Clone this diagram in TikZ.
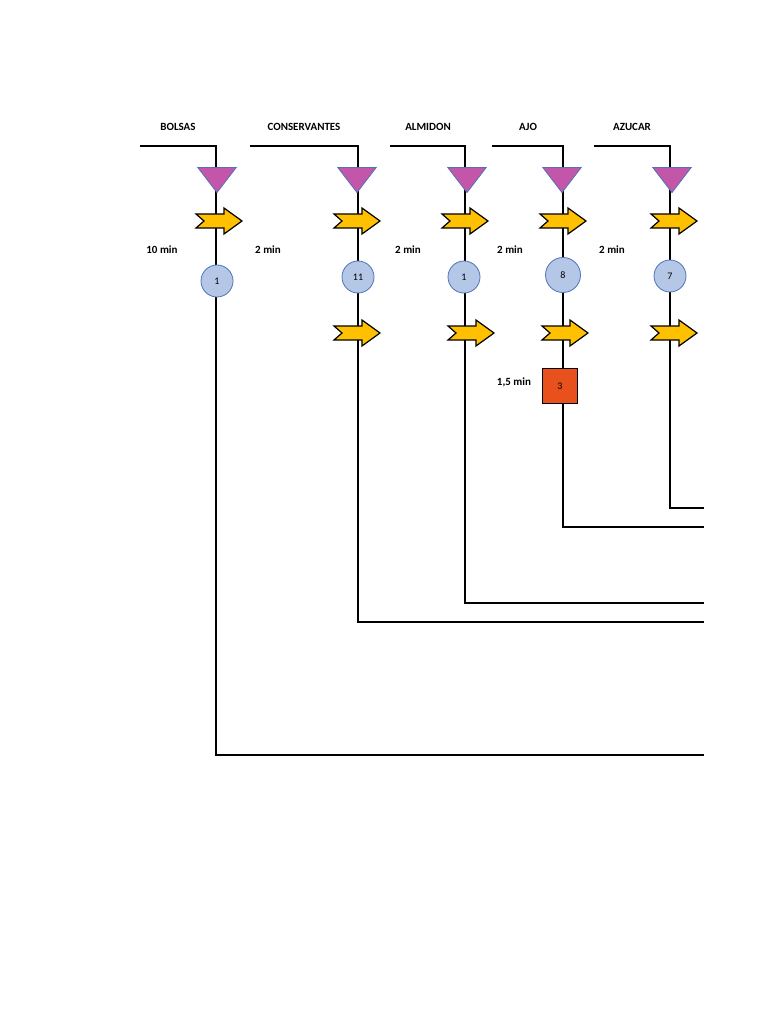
\documentclass[tikz,border=0pt]{standalone}
\usepackage{fontspec}
\setmainfont{Carlito}
\usetikzlibrary{shapes.geometric}
\definecolor{inspec}{HTML}{C456AA}
\definecolor{opfill}{HTML}{B4C7E7}
\definecolor{opline}{HTML}{4F72B8}
\definecolor{trans}{HTML}{FFC000}
\definecolor{comb}{HTML}{E8501C}
\tikzset{
  almacen/.style={isosceles triangle, shape border rotate=-90, isosceles triangle apex angle=75,
    fill=inspec, draw=opline, thick, minimum width=34pt, minimum height=25pt, inner sep=0pt},
  operacion/.style={circle, fill=opfill, draw=opline, thick, minimum size=32pt, inner sep=0pt, font=\fontsize{10}{12}\selectfont},
  combinada/.style={rectangle, fill=comb, draw=black, thick, minimum size=35pt, inner sep=0pt, font=\fontsize{10}{12}\selectfont},
  etiqueta/.style={font=\bfseries\fontsize{11}{13}\selectfont},
  linea/.style={line width=2pt},
  lineafina/.style={line width=1.5pt}
}
% chevron arrow, left-middle at (#1,#2)
\newcommand{\flecha}[2]{%
  \draw[fill=trans, line width=1.2pt, line join=miter] (#1,#2) ++(0,-7) -- ++(28,0) -- ++(0,-6)
    -- ++(18,13) -- ++(-18,13) -- ++(0,-6) -- ++(-28,0) -- ++(8,-7) -- cycle;}
\begin{document}
\begin{tikzpicture}[x=1pt, y=-1pt]
  \useasboundingbox (0,0) rectangle (768,1024);

  % Material labels
  \node[etiqueta] (bolsas) at (178,127) {BOLSAS};
  \node[etiqueta] (conservantes) at (304,127) {CONSERVANTES};
  \node[etiqueta] (almidon) at (428,127) {ALMIDON};
  \node[etiqueta] (ajo) at (528,127) {AJO};
  \node[etiqueta] (azucar) at (632,127) {AZUCAR};

  % Corner and end points of the lines
  \coordinate (a0) at (140,146);  \coordinate (a1) at (216,146);
  \coordinate (a2) at (216,755);  \coordinate (a3) at (704,755);
  \coordinate (b0) at (250,146);  \coordinate (b1) at (358,146);
  \coordinate (b2) at (358,622);  \coordinate (b3) at (704,622);
  \coordinate (c0) at (390,146);  \coordinate (c1) at (465,146);
  \coordinate (c2) at (465,603);  \coordinate (c3) at (704,603);
  \coordinate (d0) at (492,146);  \coordinate (d1) at (563,146);
  \coordinate (d2) at (563,527);  \coordinate (d3) at (704,527);
  \coordinate (e0) at (594,146);  \coordinate (e1) at (670,146);
  \coordinate (e2) at (670,508);  \coordinate (e3) at (704,508);

  % Lines
  \draw[linea] (a0) -- (a1) -- (a2) -- (a3);
  \draw[linea] (b0) -- (b1) -- (b2) -- (b3);
  \draw[linea] (c0) -- (c1) -- (c2) -- (c3);
  \draw[linea] (d0) -- (d1) -- (d2) -- (d3);
  \draw[linea] (e0) -- (e1) -- (e2) -- (e3);

  % Storage
  \node[almacen] (alm1) at (217,177) {};
  \node[almacen] (alm2) at (357,177) {};
  \node[almacen] (alm3) at (467,177) {};
  \node[almacen] (alm4) at (562,177) {};
  \node[almacen] (alm5) at (672,177) {};

  % Transport
  \flecha{196}{221}
  \flecha{334}{221}
  \flecha{442}{221}
  \flecha{540}{221}
  \flecha{651}{221}
  \flecha{334}{333}
  \flecha{448}{333}
  \flecha{542}{333}
  \flecha{651}{333}

  % Operations
  \node[operacion] (op1) at (217,281) {1};
  \node[operacion] (op2) at (358,277) {11};
  \node[operacion] (op3) at (464,277) {1};
  \node[operacion, minimum size=35pt] (op4) at (563,275) {8};
  \node[operacion] (op5) at (670,276) {7};
  \node[combinada] (comb4) at (560,386) {3};

  % Times
  \node[etiqueta] (t1) at (162,250) {10 min};
  \node[etiqueta] (t2) at (268,250) {2 min};
  \node[etiqueta] (t3) at (408,250) {2 min};
  \node[etiqueta] (t4) at (510,250) {2 min};
  \node[etiqueta] (t5) at (612,250) {2 min};
  \node[etiqueta] (t6) at (514,382) {1,5 min};
\end{tikzpicture}
\end{document}
